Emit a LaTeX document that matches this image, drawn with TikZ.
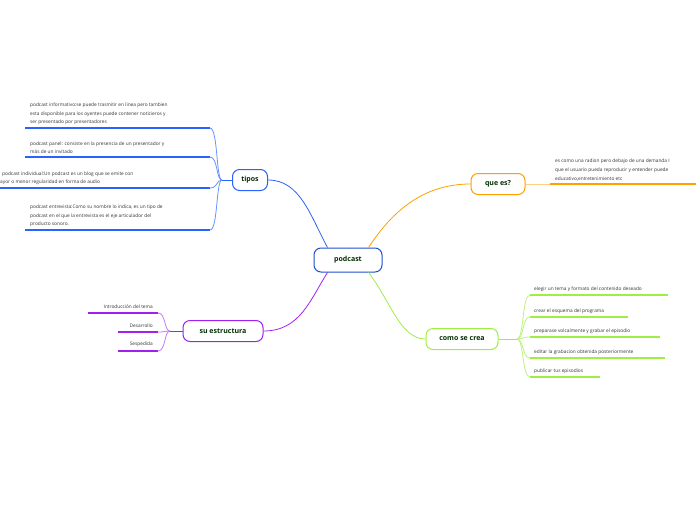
\documentclass[tikz,border=0pt]{standalone}
\usepackage{fontspec}
\setmainfont{Open Sans}
\begin{document}
\begin{tikzpicture}[x=1pt,y=-1pt,
 mainbox/.style={draw,rounded corners=7pt,line width=1pt,fill=white,font=\bfseries\fontsize{7}{8}\selectfont,text=black!70!green!60!black,minimum height=21pt,inner xsep=8pt},
 leaf/.style={font=\fontsize{4.8}{8.6}\selectfont,text=black!80,align=left,inner sep=0pt,anchor=south west},
 ul/.style={line width=1.2pt},
 con/.style={line width=0.8pt}]
\useasboundingbox (0,0) rectangle (696,520);
\definecolor{cb}{HTML}{2962FF}\definecolor{co}{HTML}{FFA000}
\definecolor{cg}{HTML}{A0EE44}\definecolor{cp}{HTML}{A020F0}
% centre
\node[mainbox,draw=cb!80!black,minimum width=68pt,minimum height=24pt] (p) at (348,260) {podcast};
\node[mainbox,draw=cb,minimum width=35pt] (t) at (250,180) {tipos};
\node[mainbox,draw=co,minimum width=54pt] (q) at (498,184) {que es?};
\node[mainbox,draw=cg,minimum width=72pt] (c) at (462,339) {como se crea};
\node[mainbox,draw=cp,minimum width=80pt] (s) at (223,331) {su estructura};
\draw[con,cb] (p.north west)++(14,0) coordinate (p1) .. controls (310,215) and (300,180) .. (t.east);
\draw[con,co] (p.north east)++(-14,0) .. controls (390,215) and (420,184) .. (q.west);
\draw[con,cg] (p.south east)++(-14,0) .. controls (390,300) and (400,339) .. (c.west);
\draw[con,cp] (p.south west)++(14,0) .. controls (310,300) and (300,331) .. (s.east);
% tipos leaves
\coordinate (tj) at (222,180);
\draw[con,cb] (t.west) -- (tj);
\foreach \n/\y/\xa/\txt in {
 a/128/25/{podcast informativo:se puede trasmitir en linea pero tambien\\esta disponible para los oyentes puede contener noticieros y\\ser presentado por presentadores},
 b/157/25/{podcast panel: consiste en la presencia de un presentador y\\más de un invitado},
 c/188/0/{\hspace*{-3pt}podcast individual:Un podcast es un blog que se emite con\\\hspace*{-5pt}ayor o menor regularidad en forma de audio},
 d/230/25/{podcast entrevista:Como su nombre lo indica, es un tipo de\\podcast en el que la entrevista es el eje articulador del\\producto sonoro.}}{
 \node[leaf] (t\n) at (\xa+5,\y-3) {\txt};
 \coordinate (t\n e) at (210,\y);
 \coordinate (t\n s) at (\xa,\y);
 \draw[ul,cb] (t\n s) -- (t\n e);
 \draw[con,cb!70] (t\n e) .. controls (218,\y) and (216,180) .. (tj);
}
% que es leaf
\node[leaf] (q1) at (555,181) {es como una radion pero debajo de una demanda I\\que el usuario pueda reproducir y entender puede\\educativo,entretenimiento etc};
\coordinate (q1s) at (550,184); \coordinate (q1e) at (696,184);
\draw[con,co!50] (q.east) -- (q1s);
\draw[ul,co] (q1s) -- (q1e);
% como se crea leaves
\coordinate (cj) at (517,339);
\draw[con,cg] (c.east) -- (cj);
\foreach \n/\y/\xb/\txt in {a/295/668/{elegir un tema y formato del contenido deseado},
 b/317/628/{crear el esquema del programa},
 c/337/660/{preparase volcalmente y grabar el episodio},
 d/358/665/{editar la grabacion obtenida posteriormente},
 e/377/600/{publicar tus episodios}}{
 \node[leaf] (c\n) at (534,\y-3) {\txt};
 \coordinate (c\n s) at (530,\y); \coordinate (c\n e) at (\xb,\y);
 \draw[ul,cg] (c\n s) -- (c\n e);
 \draw[con,cg!70] (cj) .. controls (524,339) and (522,\y) .. (c\n s);
}
% su estructura leaves
\coordinate (sj) at (170,331);
\draw[con,cp] (s.west) -- (sj);
\foreach \n/\y/\xa/\txt in {a/313/88/{Introducción del tema},b/332/118/{Desarrollo},c/351/118/{Sespedida}}{
 \node[leaf,anchor=south east] (s\n) at (153,\y-4) {\txt};
 \coordinate (s\n s) at (\xa,\y); \coordinate (s\n e) at (158,\y);
 \draw[ul,cp] (s\n s) -- (s\n e);
 \draw[con,cp!60] (s\n e) .. controls (166,\y) and (164,331) .. (sj);
}
\end{tikzpicture}
\end{document}
